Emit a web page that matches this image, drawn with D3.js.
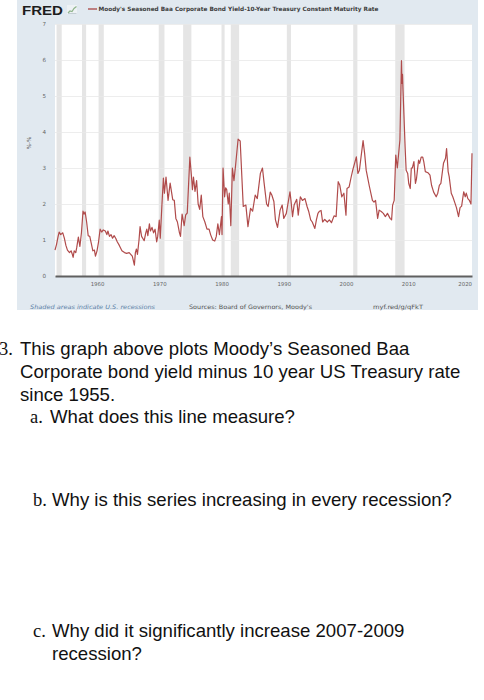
<!DOCTYPE html>
<html>
<head>
<meta charset="utf-8">
<script src="https://cdn.jsdelivr.net/npm/d3@7"></script>
<style>
  body { margin: 0; background: #fff; }
  svg text { font-family: "DejaVu Sans", Verdana, sans-serif; }
</style>
</head>
<body>
<div id="visualization"></div>
<script>
// BAA10Y spread (percent)
var dates = [
  '1953-04', '1953-07', '1953-10', '1953-12', '1954-03', '1954-07', '1954-10', '1955-01', '1955-04', '1955-08',
  '1955-11', '1956-01', '1956-03', '1956-05', '1956-08', '1956-10', '1957-01', '1957-04', '1957-07', '1957-10',
  '1957-12', '1958-02', '1958-05', '1958-08', '1958-11', '1959-02', '1959-05', '1959-08', '1959-10', '1960-01',
  '1960-04', '1960-07', '1960-10', '1961-01', '1961-05', '1961-08', '1961-10', '1962-01', '1962-04', '1962-07',
  '1962-10', '1963-01', '1963-04', '1963-08', '1964-01', '1964-06', '1964-10', '1965-03', '1965-06', '1965-09',
  '1966-01', '1966-03', '1966-05', '1966-07', '1966-10', '1966-12', '1967-03', '1967-08', '1967-11', '1968-01',
  '1968-03', '1968-06', '1968-08', '1968-11', '1969-02', '1969-05', '1969-08', '1969-10', '1970-01', '1970-03',
  '1970-06', '1970-09', '1970-11', '1971-02', '1971-06', '1971-10', '1972-03', '1972-06', '1972-09', '1972-12',
  '1973-04', '1973-06', '1973-09', '1974-01', '1974-04', '1974-07', '1974-12', '1975-03', '1975-05', '1975-07',
  '1975-10', '1976-01', '1976-04', '1976-07', '1976-10', '1977-01', '1977-05', '1977-09', '1978-01', '1978-04',
  '1978-08', '1978-12', '1979-03', '1979-06', '1979-09', '1980-01', '1980-02', '1980-04', '1980-07', '1980-09',
  '1980-11', '1981-02', '1981-04', '1981-07', '1981-10', '1982-01', '1982-04', '1982-09', '1983-01', '1983-07',
  '1983-12', '1984-04', '1984-09', '1985-01', '1985-06', '1985-10', '1986-04', '1986-08', '1986-11', '1987-04',
  '1987-07', '1987-11', '1988-02', '1988-06', '1988-09', '1989-01', '1989-06', '1989-10', '1990-01', '1990-06',
  '1991-01', '1991-03', '1991-06', '1991-09', '1992-02', '1992-05', '1992-09', '1993-01', '1993-06', '1993-10',
  '1994-01', '1994-05', '1994-08', '1995-01', '1995-04', '1995-07', '1995-10', '1996-01', '1996-04', '1996-08',
  '1997-01', '1997-05', '1997-09', '1998-02', '1998-06', '1998-10', '1999-01', '1999-05', '1999-09', '2000-01',
  '2000-03', '2000-07', '2000-11', '2001-02', '2001-09', '2001-12', '2002-03', '2002-06', '2002-10', '2003-01',
  '2003-04', '2003-10', '2004-04', '2004-07', '2004-10', '2005-02', '2005-05', '2005-09', '2006-01', '2006-05',
  '2006-09', '2007-02', '2007-05', '2007-07', '2007-10', '2008-01', '2008-04', '2008-09', '2008-12', '2009-01',
  '2009-02', '2009-03', '2009-07', '2009-09', '2009-12', '2010-02', '2010-05', '2010-07', '2010-09', '2010-12',
  '2011-03', '2011-05', '2011-09', '2011-11', '2012-02', '2012-05', '2012-07', '2012-10', '2013-03', '2013-07',
  '2013-10', '2014-02', '2014-07', '2014-10', '2015-01', '2015-04', '2015-09', '2016-01', '2016-03', '2016-06',
  '2016-08', '2016-12', '2017-03', '2017-07', '2017-10', '2018-02', '2018-05', '2018-08', '2018-12', '2019-03',
  '2019-05', '2019-08', '2019-11', '2020-02', '2020-04'
]
var spread = [
  0.72, 0.88, 1.10, 1.22, 1.15, 1.20, 1.05, 0.85, 0.72, 0.65,
  0.70, 0.62, 0.52, 0.70, 0.65, 0.80, 1.08, 0.82, 1.20, 1.80,
  1.72, 1.78, 1.50, 1.12, 1.10, 0.90, 0.70, 0.72, 0.55, 0.70,
  0.95, 1.30, 1.22, 1.28, 1.25, 1.15, 1.25, 1.10, 1.15, 1.05,
  1.12, 1.05, 0.95, 0.85, 0.70, 0.65, 0.63, 0.65, 0.60, 0.55,
  0.30, 0.65, 0.75, 0.60, 1.00, 1.37, 1.10, 0.98, 1.20, 1.30,
  1.12, 1.45, 1.25, 1.35, 1.20, 1.30, 0.95, 1.10, 1.55, 1.05,
  1.93, 2.72, 2.30, 2.75, 2.10, 2.58, 2.12, 2.10, 1.60, 1.50,
  1.20, 1.10, 1.72, 1.40, 1.70, 1.75, 3.30, 2.80, 2.40, 2.75,
  2.35, 2.65, 2.00, 1.85, 2.25, 1.65, 1.50, 1.30, 1.30, 1.15,
  1.00, 0.97, 1.10, 1.45, 1.15, 1.65, 1.15, 3.00, 2.20, 2.45,
  2.40, 2.00, 2.30, 1.40, 3.00, 2.65, 3.05, 3.80, 3.75, 1.93,
  1.97, 1.37, 1.88, 1.80, 2.25, 2.15, 2.85, 3.00, 2.60, 2.00,
  1.93, 2.33, 2.25, 2.07, 1.56, 1.35, 1.83, 1.97, 1.60, 1.74,
  2.34, 2.10, 1.65, 1.97, 2.13, 1.69, 2.20, 2.10, 2.15, 1.93,
  1.80, 1.56, 1.50, 1.32, 1.56, 1.74, 1.80, 1.82, 1.50, 1.57,
  1.50, 1.56, 1.48, 1.67, 1.65, 2.62, 2.53, 2.20, 2.30, 1.69,
  2.43, 2.47, 2.75, 2.94, 3.31, 2.85, 2.94, 3.30, 3.76, 3.40,
  2.94, 2.50, 2.10, 2.05, 2.10, 1.60, 1.83, 1.79, 1.74, 1.65,
  1.74, 1.60, 1.56, 1.97, 2.10, 3.36, 3.00, 3.78, 5.98, 5.35,
  5.60, 5.17, 3.60, 2.94, 2.85, 2.57, 2.43, 3.00, 3.00, 3.18,
  2.57, 2.70, 3.22, 3.13, 3.30, 3.30, 3.18, 2.90, 2.87, 2.80,
  2.52, 2.33, 2.20, 2.30, 2.52, 2.57, 3.13, 3.27, 3.54, 2.90,
  2.76, 2.30, 2.20, 2.03, 1.90, 1.65, 1.90, 1.94, 2.34, 2.20,
  2.30, 2.15, 2.10, 2.00, 3.41
]
var recessionStart = ['1953-07', '1957-08', '1960-04', '1969-12', '1973-11', '1980-01', '1981-07', '1990-07', '2001-03', '2007-12']
var recessionEnd = ['1954-05', '1958-04', '1961-02', '1970-11', '1975-03', '1980-07', '1982-11', '1991-03', '2001-11', '2009-06']
var yTicks = [0, 1, 2, 3, 4, 5, 6, 7]
var xTicks = ['1960', '1970', '1980', '1990', '2000', '2010', '2020']

var chartTitle = "Moody's Seasoned Baa Corporate Bond Yield-10-Year Treasury Constant Maturity Rate"
var yLabel = '%-%'
var footNotes = ['Shaded areas indicate U.S. recessions', "Sources: Board of Governors, Moody's", 'myf.red/g/qFkT']

var questionLines = [
  ['3.', 'This graph above plots Moody\u2019s Seasoned Baa'],
  ['', 'Corporate bond yield minus 10 year US Treasury rate'],
  ['', 'since 1955.'],
  ['a.', 'What does this line measure?'],
  ['b.', 'Why is this series increasing in every recession?'],
  ['c.', 'Why did it significantly increase 2007-2009'],
  ['', 'recession?']
]

var parseMonth = d3.timeParse('%Y-%m')

function drawCanvas () {
  d3.select('svg').remove()
  return d3.select('#visualization')
    .append('svg')
    .attr('width', 484)
    .attr('height', 700)
}

function drawHeader (svg) {
  svg.append('text')
    .attr('x', 22)
    .attr('y', 14.8)
    .attr('textLength', 41)
    .attr('lengthAdjust', 'spacingAndGlyphs')
    .style('font-family', '"Liberation Sans", Arial, sans-serif')
    .style('font-weight', 900)
    .style('font-size', '12.8px')
    .attr('fill', '#1d1d1d')
    .text('FRED')

  // small chart icon next to the logo
  var icon = svg.append('g').attr('transform', 'translate(67,5)')
  icon.append('rect')
    .attr('width', 10).attr('height', 9)
    .attr('fill', '#eef2f5')
  icon.append('path')
    .attr('d', 'M1,8 L3,6 L5,6.5 L7,3.5 L9.5,1.5')
    .attr('fill', 'none')
    .attr('stroke', '#8fb48c')
    .attr('stroke-width', 1.2)
  icon.append('path')
    .attr('d', 'M1,8.5 L9.5,8.5')
    .attr('stroke', '#b9c4cc')
    .attr('stroke-width', 0.8)

  svg.append('line')
    .attr('x1', 88).attr('x2', 97)
    .attr('y1', 9).attr('y2', 9)
    .attr('stroke', '#aa4643')
    .attr('stroke-width', 1.3)

  svg.append('text')
    .attr('x', 98.5)
    .attr('y', 11)
    .attr('textLength', 280)
    .attr('lengthAdjust', 'spacingAndGlyphs')
    .style('font-weight', 'bold')
    .style('font-size', '5.8px')
    .attr('fill', '#3d3d3d')
    .text(chartTitle)
}

function drawChart (svg) {
  var margin = {left: 55, top: 24}
  var width = 417
  var height = 252

  var data = dates.map(function (d, i) {
    return {date: parseMonth(d), value: spread[i]}
  })

  var x = d3.scaleTime()
    .domain(d3.extent(data, function (d) { return d.date }))
    .range([0, width])
  var y = d3.scaleLinear()
    .domain([0, 7])
    .range([height, 0])

  var g = svg.append('g')
    .attr('transform', 'translate(' + margin.left + ',' + margin.top + ')')

  g.append('rect')
    .attr('width', width)
    .attr('height', height)
    .attr('fill', '#fff')

  // recession bands
  g.selectAll('.recession')
    .data(recessionStart)
    .enter()
    .append('rect')
    .attr('class', 'recession')
    .attr('x', function (d) { return x(parseMonth(d)) })
    .attr('width', function (d, i) {
      return x(parseMonth(recessionEnd[i])) - x(parseMonth(d))
    })
    .attr('y', 0)
    .attr('height', height)
    .attr('fill', '#e5e5e5')

  // grid + y labels
  var yAxis = g.append('g')
    .call(d3.axisLeft(y).tickValues(yTicks).tickSize(-width).tickFormat(d3.format('d')))
  yAxis.select('.domain').remove()
  yAxis.selectAll('.tick line')
    .attr('stroke', '#e8e8e8')
    .attr('stroke-width', 0.8)
  yAxis.selectAll('.tick text')
    .attr('x', -9)
    .attr('fill', '#666')
    .style('font-size', '5.6px')

  // series
  var line = d3.line()
    .x(function (d) { return x(d.date) })
    .y(function (d) { return y(d.value) })

  g.append('path')
    .datum(data)
    .attr('d', line)
    .attr('fill', 'none')
    .attr('stroke', '#b04b4b')
    .attr('stroke-width', 1.2)
    .attr('stroke-linejoin', 'round')

  // x axis
  var xAxis = g.append('g')
    .attr('transform', 'translate(0,' + height + ')')
    .call(d3.axisBottom(x)
      .tickValues(xTicks.map(function (d) { return d3.timeParse('%Y')(d) }))
      .tickSize(0)
      .tickSizeOuter(0)
      .tickFormat(d3.timeFormat('%Y')))
  xAxis.select('.domain')
    .attr('stroke', '#606060')
    .attr('stroke-width', 1.8)
  xAxis.selectAll('.tick text')
    .attr('y', 6)
    .attr('fill', '#666')
    .style('font-size', '5.4px')
    .each(function () {
      // keep the last label inside the plot, as FRED does
      var t = d3.select(this)
      var tx = +d3.select(this.parentNode).attr('transform').match(/translate\(([\d.]+)/)[1]
      var w = this.getComputedTextLength()
      if (tx + w / 2 > width) {
        t.attr('text-anchor', 'end').attr('x', width - tx)
      }
    })

  svg.append('text')
    .attr('transform', 'translate(31,' + (margin.top + height / 2 - 7) + ') rotate(-90)')
    .attr('text-anchor', 'middle')
    .attr('fill', '#666')
    .style('font-size', '5.6px')
    .text(yLabel)
}

function drawFooter (svg) {
  var xs = [30, 189, 373]
  var lens = [125, 123, 50]
  svg.selectAll('.foot')
    .data(footNotes)
    .enter()
    .append('text')
    .attr('class', 'foot')
    .attr('x', function (d, i) { return xs[i] })
    .attr('y', 308.5)
    .attr('textLength', function (d, i) { return lens[i] })
    .attr('lengthAdjust', 'spacingAndGlyphs')
    .attr('fill', function (d, i) { return i === 0 ? '#5b7fa6' : '#555' })
    .style('font-style', function (d, i) { return i === 0 ? 'italic' : 'normal' })
    .style('font-size', '6px')
    .text(function (d) { return d })
}

function drawQuestions (svg) {
  var baselines = [355, 378, 400.5, 423, 506, 637, 659.5]
  var labelX = [-1, 0, 0, 30, 33, 33, 0]
  var textX = [20, 20, 20, 50, 52, 52, 52]

  var rows = svg.selectAll('.question')
    .data(questionLines)
    .enter()
    .append('g')
    .attr('class', 'question')

  rows.append('text')
    .attr('x', function (d, i) { return labelX[i] })
    .attr('y', function (d, i) { return baselines[i] })
    .style('font-family', '"Liberation Serif", "Times New Roman", serif')
    .style('font-size', '18.5px')
    .attr('fill', '#111')
    .text(function (d) { return d[0] })

  rows.append('text')
    .attr('x', function (d, i) { return textX[i] })
    .attr('y', function (d, i) { return baselines[i] })
    .style('font-family', '"Liberation Sans", Arial, sans-serif')
    .style('font-size', '18.6px')
    .attr('fill', '#111')
    .text(function (d) { return d[1] })
}

function draw () {
  var svg = drawCanvas()
  svg.append('rect')
    .attr('x', 17).attr('y', 0)
    .attr('width', 461).attr('height', 310)
    .attr('fill', '#e1e9f0')
  drawHeader(svg)
  drawChart(svg)
  drawFooter(svg)
  drawQuestions(svg)
}
draw()
</script>
</body>
</html>
